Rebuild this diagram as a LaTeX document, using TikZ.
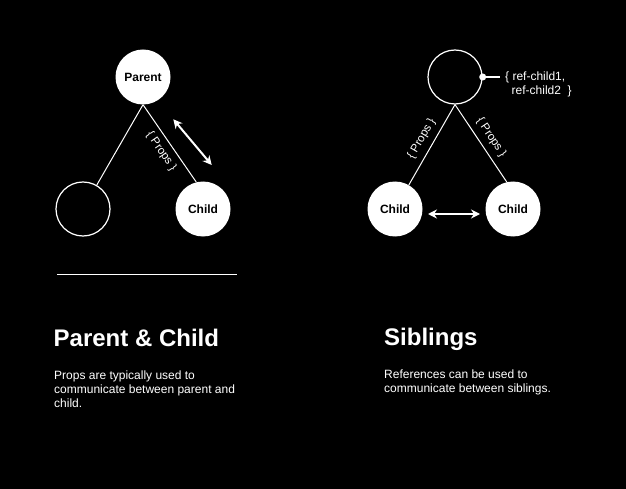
\documentclass[tikz,border=0pt]{standalone}
\usepackage{fontspec}
\setmainfont{Liberation Sans}
\usetikzlibrary{arrows.meta}
\begin{document}
\begin{tikzpicture}[x=1pt,y=-1pt,
  hollow/.style={circle, draw=white, line width=1.2pt, fill=black, minimum size=54pt, inner sep=0pt},
  filledc/.style={circle, fill=white, minimum size=55pt, inner sep=0pt, font=\fontsize{12}{14}\selectfont\bfseries, text=black},
  link/.style={draw=white, line width=1pt},
  props/.style={sloped, inner sep=0pt, text=white, font=\fontsize{11.5}{13}\selectfont},
  twoway/.style={draw=white, line width=2pt, {Stealth[length=9pt,width=9pt]}-{Stealth[length=9pt,width=9pt]}},
  title/.style={anchor=base west, text=white, font=\fontsize{24}{28}\selectfont\bfseries, inner sep=0pt},
  body/.style={anchor=north west, align=left, text=white, font=\fontsize{12}{14}\selectfont, inner sep=0pt}
]
\fill[black] (0,0) rectangle (626,489);
\useasboundingbox (0,0) rectangle (626,489);

% left diagram
\node[filledc] (parent) at (143,77) {Parent};
\node[hollow] (empty) at (83,209) {};
\node[filledc] (child) at (203,209) {Child};
\draw[link] (parent.south) -- (empty);
\draw[link] (parent.south) -- node[props, pos=0.52, below=5.5pt] {\{ Props \}} (child.104);
\coordinate (la1) at (173.3,119.3);
\coordinate (la2) at (211.7,165);
\draw[twoway] (la1) -- (la2);

% right diagram
\node[hollow] (top) at (455,77) {};
\node[filledc] (c1) at (395,209) {Child};
\node[filledc] (c2) at (513,209) {Child};
\draw[link] (c1) -- node[props, pos=0.5, above=6pt] {\{ Props \}} (top.south);
\draw[link] (top.south) -- node[props, pos=0.51, above=6pt] {\{ Props \}} (c2.103);
\coordinate (ra1) at (428,214);
\coordinate (ra2) at (480,214);
\draw[twoway] (ra1) -- (ra2);

\node[circle, fill=white, inner sep=0pt, minimum size=7pt] (dot) at (482.7,77) {};
\coordinate (refend) at (500,77);
\draw[white, line width=1.5pt] (dot) -- (refend);
\node[anchor=north west, align=left, inner sep=0pt, text=white, font=\fontsize{12}{14}\selectfont] (refs) at (505,71.3) {\{ ref-child1,\\\hspace*{6.5pt}ref-child2\ \ \}};

% separator
\coordinate (h1) at (57,274.5);
\coordinate (h2) at (236.5,274.5);
\draw[white, line width=1.8pt] (h1) -- (h2);

% texts
\node[title] (t1) at (53.5,346) {Parent \& Child};
\node[title] (t2) at (384,345) {Siblings};
\node[body] (b1) at (54,370.4) {Props are typically used to\\communicate between parent and\\child.};
\node[body] (b2) at (384,369.7) {References can be used to\\communicate between siblings.};
\end{tikzpicture}
\end{document}
